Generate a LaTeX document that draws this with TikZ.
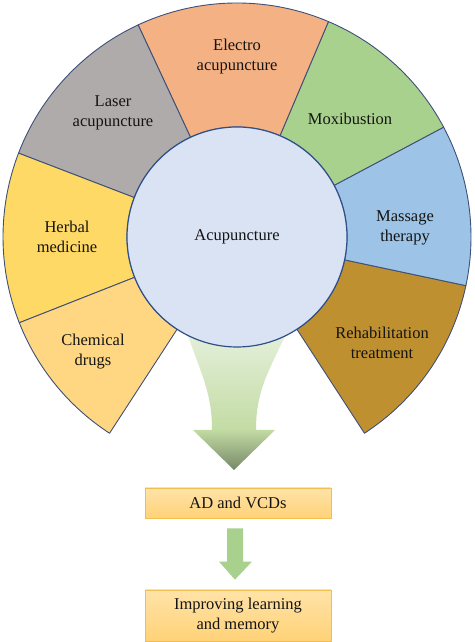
\documentclass[tikz,border=0pt]{standalone}
\usepackage{fontspec}
\setmainfont{Liberation Serif}
\usetikzlibrary{calc}
\definecolor{segline}{HTML}{3E5079}
\definecolor{circline}{HTML}{2F4F8A}
\definecolor{circfill}{HTML}{DAE3F3}
\definecolor{cElectro}{HTML}{F4B183}
\definecolor{cLaser}{HTML}{AFABAB}
\definecolor{cMoxi}{HTML}{A9D18E}
\definecolor{cMassage}{HTML}{9DC3E6}
\definecolor{cRehab}{HTML}{BF9030}
\definecolor{cHerbal}{HTML}{FFD966}
\definecolor{cChem}{HTML}{FFD783}
\definecolor{txt}{HTML}{141414}
\definecolor{boxtop}{HTML}{FFE3A8}
\definecolor{boxbot}{HTML}{FFD278}
\definecolor{boxline}{HTML}{F2BE50}
\definecolor{arrowgreen}{HTML}{A9D18E}
\definecolor{funtop}{HTML}{E5F0DC}
\definecolor{funmid}{HTML}{C3DCA4}
\definecolor{funtip}{HTML}{778868}
\pgfdeclareverticalshading{funnelshade}{100bp}{color(0bp)=(funtip); color(25bp)=(funtip); color(39.5bp)=(funmid); color(75bp)=(funtop); color(100bp)=(funtop)}
\newcommand\ringseg[3]{\path[seg,fill=#3,shift={(237,405)}] (#1:110) -- (#1:234) arc[start angle=#1,end angle=#2,radius=234] -- (#2:110) arc[start angle=#2,end angle=#1,radius=110] -- cycle;}
\begin{document}
\begin{tikzpicture}[x=1pt,y=1pt,
  seg/.style={draw=segline,line width=0.9pt,line join=round},
  lbl/.style={font=\fontsize{16.5}{20}\selectfont,align=center,text=txt},
  resbox/.style={lbl,draw=boxline,line width=0.8pt,top color=boxtop,bottom color=boxbot,minimum width=186pt,inner sep=0pt}]
\useasboundingbox (0,0) rectangle (474,642);
\fill[white] (0,0) rectangle (474,642);
% funnel arrow
\shade[shading=funnelshade] (186,312) .. controls (201,268) and (212,250) .. (212,212) -- (193,212) -- (234,172) -- (275,212) -- (256,212) .. controls (256,250) and (267,268) .. (288,312) -- cycle;
% ring segments
\ringseg{-57}{-12}{cRehab}
\ringseg{-12}{28}{cMassage}
\ringseg{28}{67}{cMoxi}
\ringseg{67}{115}{cElectro}
\ringseg{115}{159}{cLaser}
\ringseg{159}{201.5}{cHerbal}
\ringseg{201.5}{237}{cChem}
% centre
\node[circle,draw=circline,fill=circfill,line width=1.2pt,minimum size=220pt,inner sep=0pt,lbl] (acu) at (237,405) {Acupuncture};
% labels
\node[lbl] (electro) at (237,585) {Electro\\acupuncture};
\node[lbl] (laser) at (113,529) {Laser\\acupuncture};
\node[lbl] (moxi) at (350,523) {Moxibustion};
\node[lbl] (massage) at (405,414) {Massage\\therapy};
\node[lbl] (rehab) at (382,299) {Rehabilitation\\treatment};
\node[lbl] (herbal) at (67,405) {Herbal\\medicine};
\node[lbl] (chem) at (93,290) {Chemical\\drugs};
% result boxes
\node[resbox,minimum height=30pt] (ad) at (238,139) {AD and VCDs};
\node[resbox,minimum height=51pt,text depth=3pt] (imp) at (238,26.5) {Improving learning\\and memory};
% small arrow
\path (ad.south) ++(-3,-10) coordinate (a2top);
\path (imp.north) ++(-3,10) coordinate (a2tip);
\fill[arrowgreen] ($(a2top)+(-8,0)$) -- ($(a2top)+(8,0)$) -- ($(a2tip)+(8,18)$) -- ($(a2tip)+(17,18)$) -- (a2tip) -- ($(a2tip)+(-16,18)$) -- ($(a2tip)+(-8,18)$) -- cycle;
\end{tikzpicture}
\end{document}
